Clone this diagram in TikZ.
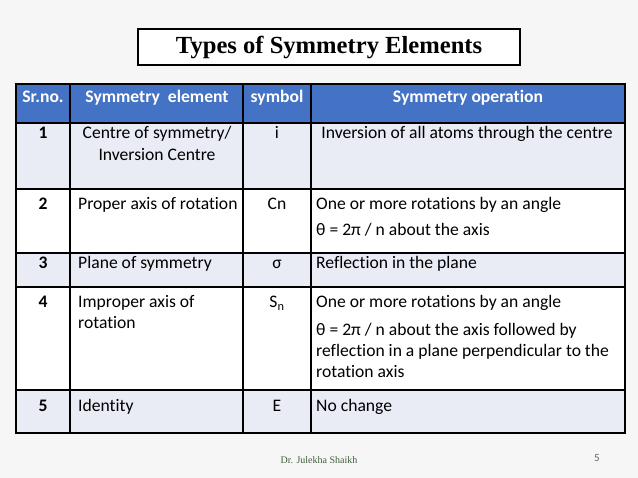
\documentclass[tikz,border=0pt]{standalone}
\usepackage{fontspec}
\setmainfont{Carlito}[RawFeature={-liga}]
\newfontfamily\titlefont{Liberation Serif}
\definecolor{hdr}{HTML}{4472C4}
\definecolor{lite}{HTML}{E9EBF5}
\definecolor{bgc}{HTML}{F6F6F6}
\definecolor{foot}{HTML}{3F5F3F}
\begin{document}
\begin{tikzpicture}[x=1pt,y=-1pt,
  txt/.style={inner sep=0pt,font=\fontsize{17.6}{20}\selectfont},
  lt/.style={txt,anchor=base west},
  ct/.style={txt,anchor=base},
  ht/.style={txt,anchor=base,text=white,font=\fontsize{17.6}{20}\selectfont\bfseries},
  bt/.style={txt,anchor=base,font=\fontsize{17.6}{20}\selectfont\bfseries},
  grid/.style={line width=2.6pt,black}]
\fill[bgc] (0,0) rectangle (638,478);
\useasboundingbox (0,0) rectangle (638,478);
% title
\node[draw,line width=2.2pt,fill=white,minimum width=382pt,minimum height=36pt,anchor=north west,inner sep=0pt,font=\titlefont\fontsize{24.6}{28}\selectfont\bfseries] (title) at (137,28) {Types of Symmetry Elements};
% rows
\fill[hdr] (16,84) rectangle (625,123);
\fill[lite] (16,123) rectangle (625,189);
\fill[white] (16,189) rectangle (625,253);
\fill[lite] (16,253) rectangle (625,287);
\fill[white] (16,287) rectangle (625,390);
\fill[lite] (16,390) rectangle (625,433);
\draw[grid] (16,84) rectangle (625,433);
\foreach \yy in {123,189,253,287,390} \draw[grid] (16,\yy) -- (625,\yy);
\foreach \xx in {70,243,311} \draw[grid] (\xx,84) -- (\xx,433);
% header
\node[ht] (h1) at (43,103) {Sr.no.};
\node[ht] (h2) at (157,103) {Symmetry\ \ element};
\node[ht] (h3) at (277,103) {symbol};
\node[ht] (h4) at (468,103) {Symmetry operation};
% row 1
\node[bt] (n1) at (43,139) {1};
\node[ct] (e1a) at (157,139) {Centre of symmetry/};
\node[ct] (e1b) at (157,161) {Inversion Centre};
\node[ct] (s1) at (277,139) {i};
\node[ct] (o1) at (467,139) {Inversion of all atoms through the centre};
% row 2
\node[bt] (n2) at (43,210) {2};
\node[lt] (e2) at (78,210) {Proper axis of rotation};
\node[ct] (s2) at (277,210) {Cn};
\node[lt] (o2a) at (316,210) {One or more rotations by an angle};
\node[lt] (o2b) at (316,236) {θ = 2π / n about the axis};
% row 3
\node[bt] (n3) at (43,269) {3};
\node[lt] (e3) at (78,269) {Plane of symmetry};
\node[ct] (s3) at (277,269) {σ};
\node[lt] (o3) at (316,269) {Reflection in the plane};
% row 4
\node[bt] (n4) at (43,308) {4};
\node[lt] (e4a) at (78,308) {Improper axis of};
\node[lt] (e4b) at (78,329) {rotation};
\node[ct] (s4) at (277,308) {S\textsubscript{n}};
\node[lt] (o4a) at (316,308) {One or more rotations by an angle};
\node[lt] (o4b) at (316,336) {θ = 2π / n about the axis followed by};
\node[lt] (o4c) at (316,357) {reflection in a plane perpendicular to the};
\node[lt] (o4d) at (316,378) {rotation axis};
% row 5
\node[bt] (n5) at (43,412) {5};
\node[lt] (e5) at (78,412) {Identity};
\node[ct] (s5) at (277,412) {E};
\node[lt] (o5) at (316,412) {No change};
% footer
\node[inner sep=0pt,anchor=base,text=foot,font=\titlefont\fontsize{10}{12}\selectfont] (ft) at (319,464) {Dr. Julekha Shaikh};
\node[inner sep=0pt,anchor=base,text=gray!80!black,font=\fontsize{11}{13}\selectfont] (pg) at (597,462) {5};
\end{tikzpicture}
\end{document}
